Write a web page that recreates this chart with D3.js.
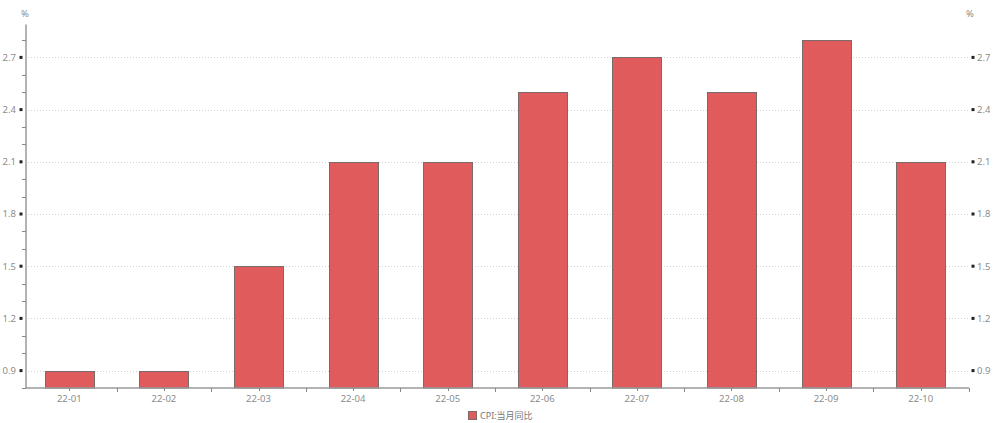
<!DOCTYPE html>
<html><head><meta charset="utf-8">
<script src="https://cdn.jsdelivr.net/npm/d3@7"></script>
<style>body{margin:0;background:#fff}svg{display:block;font-family:"Noto Sans","Noto Sans CJK SC",sans-serif}</style>
</head><body><svg id="c" width="1000" height="423"></svg>
<script>
const categories = ["22-01","22-02","22-03","22-04","22-05","22-06","22-07","22-08","22-09","22-10"];
const values = [0.9,0.9,1.5,2.1,2.1,2.5,2.7,2.5,2.8,2.1];
const yTicks = [0.9,1.2,1.5,1.8,2.1,2.4,2.7];
const yMinorTicks = [0.8,1.0,1.1,1.3,1.4,1.6,1.7,1.9,2.0,2.2,2.3,2.5,2.6,2.8];
const seriesName = "CPI:当月同比";
const unit = "%";

const svg = d3.select("#c");
const axisX0 = 26, axisX1 = 969, rightX = 973;
const x = d3.scaleBand().domain(categories).range([22, 968]).paddingInner(0).paddingOuter(0);
const y = d3.scaleLinear().domain([0.8, 2.9]).range([388, 22.6]);
const barW = x.bandwidth() * 0.52;
const grey = "#8c8c8c";

// grid
svg.append("g").selectAll("line").data(yTicks).join("line")
  .attr("x1", axisX0 + 2).attr("x2", rightX - 3)
  .attr("y1", d => Math.round(y(d)) + 0.5).attr("y2", d => Math.round(y(d)) + 0.5)
  .attr("stroke", "#d2d2d2").attr("stroke-width", 1).attr("stroke-dasharray", "1,2");

// bars
svg.append("g").selectAll("rect").data(values).join("rect")
  .attr("x", (d, i) => Math.round(x(categories[i]) + x.bandwidth() / 2 - barW / 2) + 0.5)
  .attr("y", d => Math.round(y(d)) + 0.5)
  .attr("width", Math.round(barW))
  .attr("height", d => y(0.8) - Math.round(y(d)) - 0.5)
  .attr("fill", "#e05c5c").attr("stroke", "#7a6a6a").attr("stroke-width", 1);

// left axis
const yl = svg.append("g");
yl.append("line").attr("x1", axisX0).attr("x2", axisX0).attr("y1", y(2.9) + 2).attr("y2", y(0.8))
  .attr("stroke", "#9a9a9a").attr("stroke-width", 1.5);
yl.selectAll(".mn").data(yMinorTicks).join("line")
  .attr("x1", axisX0 - 4).attr("x2", axisX0)
  .attr("y1", d => Math.round(y(d)) + 0.5).attr("y2", d => Math.round(y(d)) + 0.5)
  .attr("stroke", "#888").attr("stroke-width", 1);
yl.selectAll(".dot").data(yTicks).join("rect")
  .attr("x", axisX0 - 6.5).attr("y", d => y(d) - 1.5).attr("width", 3).attr("height", 3).attr("fill", "#222");
yl.selectAll("text").data(yTicks).join("text")
  .attr("x", 16).attr("y", d => y(d)).attr("dy", "0.35em").attr("text-anchor", "end")
  .attr("font-size", 9.5).attr("fill", grey).text(d => d.toFixed(1));
svg.append("text").attr("x", 25).attr("y", 17).attr("text-anchor", "middle").attr("font-size", 9.5).attr("fill", grey).text(unit);

// right axis
const yr = svg.append("g");
yr.selectAll(".dot").data(yTicks).join("rect")
  .attr("x", rightX - 1.5).attr("y", d => y(d) - 1.5).attr("width", 3).attr("height", 3).attr("fill", "#222");
yr.selectAll("text").data(yTicks).join("text")
  .attr("x", rightX + 4).attr("y", d => y(d)).attr("dy", "0.35em").attr("text-anchor", "start")
  .attr("font-size", 9.5).attr("fill", grey).text(d => d.toFixed(1));
svg.append("text").attr("x", 970).attr("y", 17).attr("text-anchor", "middle").attr("font-size", 9.5).attr("fill", grey).text(unit);

// x axis
const xa = svg.append("g");
xa.append("line").attr("x1", axisX0).attr("x2", axisX1).attr("y1", y(0.8)).attr("y2", y(0.8))
  .attr("stroke", "#9a9a9a").attr("stroke-width", 1.5);
const bounds = categories.slice(1).map(c => x(c)).concat([axisX1]);
xa.selectAll(".b").data(bounds).join("line")
  .attr("x1", d => Math.round(d) + 0.5).attr("x2", d => Math.round(d) + 0.5)
  .attr("y1", y(0.8)).attr("y2", y(0.8) + 4).attr("stroke", "#888");
xa.selectAll(".c").data(categories).join("line")
  .attr("x1", d => Math.round(x(d) + x.bandwidth() / 2) + 0.5).attr("x2", d => Math.round(x(d) + x.bandwidth() / 2) + 0.5)
  .attr("y1", y(0.8)).attr("y2", y(0.8) + 3).attr("stroke", "#888");
xa.selectAll("text").data(categories).join("text")
  .attr("x", d => x(d) + x.bandwidth() / 2).attr("y", 402).attr("text-anchor", "middle")
  .attr("font-size", 9.5).attr("fill", grey).text(d => d);

// legend
const lg = svg.append("g");
lg.append("rect").attr("x", 468.5).attr("y", 411.5).attr("width", 8).attr("height", 8)
  .attr("fill", "#e05c5c").attr("stroke", "#7a6a6a");
lg.append("text").attr("x", 480).attr("y", 419).attr("font-size", 9).attr("fill", "#777").text(seriesName);
</script></body></html>
